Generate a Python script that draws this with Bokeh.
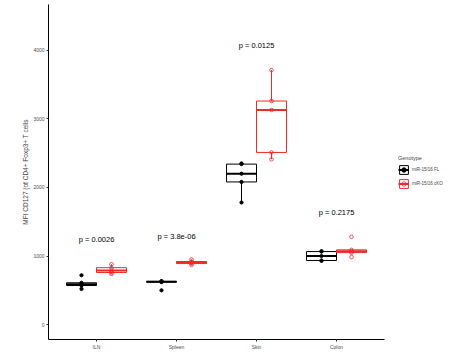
import numpy as np
from bokeh.plotting import figure
from bokeh.models import (Range1d, FixedTicker, ColumnDataSource, Legend, LegendItem)
from bokeh.core.properties import value
from bokeh.embed import file_html
from bokeh.resources import INLINE

# ---- data ----
tissues = ["ILN", "Spleen", "Skin", "Colon"]
genotypes = ["miR-15/16 FL", "miR-15/16 cKO"]
fl_values = {
    "ILN": [720, 610, 590, 570, 520],
    "Spleen": [635, 630, 625, 620, 500],
    "Skin": [2350, 2340, 2200, 2080, 1780],
    "Colon": [1070, 1065, 1000, 935, 930],
}
cko_values = {
    "ILN": [880, 830, 790, 760, 740],
    "Spleen": [950, 920, 905, 890, 870],
    "Skin": [3710, 3260, 3130, 2510, 2410],
    "Colon": [1280, 1090, 1070, 1050, 985],
}
p_labels = ["p = 0.0026", "p = 3.8e-06", "p = 0.0125", "p = 0.2175"]
p_label_y = [1245, 1290, 4070, 1640]
y_ticks = [0, 1000, 2000, 3000, 4000]

colors = ["#000000", "#EE2A2A"]
FONT = "Liberation Sans"
dodge = 0.1875
half_w = 0.1875

# panel covers x 0.4..4.6; extra room on the right of the frame holds the legend
p = figure(width=474, height=352, output_backend="svg", toolbar_location=None,
           x_range=Range1d(0.4, 5.725), y_range=Range1d(-217, 4667),
           min_border_left=48, min_border_right=0, min_border_top=4,
           min_border_bottom=11)
p.outline_line_color = None
p.xgrid.visible = False
p.ygrid.visible = False
p.background_fill_color = "white"

legend_items = []
for gi, (gname, data) in enumerate(zip(genotypes, [fl_values, cko_values])):
    col = colors[gi]
    off = -dodge if gi == 0 else dodge
    xs, q1s, q3s, meds, lo_w, hi_w = [], [], [], [], [], []
    px, py = [], []
    for ti, t in enumerate(tissues):
        v = np.array(data[t], dtype=float)
        q1, med, q3 = np.percentile(v, [25, 50, 75])
        iqr = q3 - q1
        lo = v[v >= q1 - 1.5 * iqr].min()
        hi = v[v <= q3 + 1.5 * iqr].max()
        x = ti + 1 + off
        xs.append(x); q1s.append(q1); q3s.append(q3); meds.append(med)
        lo_w.append(lo); hi_w.append(hi)
        px += [x] * len(v); py += list(v)
    src = ColumnDataSource(dict(x=xs, left=[x - half_w for x in xs],
                                right=[x + half_w for x in xs],
                                q1=q1s, q3=q3s, med=meds, lo=lo_w, hi=hi_w))
    p.segment(x0="x", y0="q3", x1="x", y1="hi", source=src, line_color=col, line_width=1)
    p.segment(x0="x", y0="q1", x1="x", y1="lo", source=src, line_color=col, line_width=1)
    box = p.quad(left="left", right="right", bottom="q1", top="q3", source=src,
                 fill_color="white", line_color=col, line_width=1)
    medr = p.segment(x0="left", y0="med", x1="right", y1="med", source=src,
                     line_color=col, line_width=2)
    psrc = ColumnDataSource(dict(x=px, y=py))
    if gi == 0:
        pts = p.scatter("x", "y", source=psrc, size=3.2, fill_color=col, line_color=col)
    else:
        pts = p.scatter("x", "y", source=psrc, size=3.6, fill_color="white",
                        fill_alpha=0, line_color=col, line_width=0.8)
    legend_items.append(LegendItem(label=gname, renderers=[box, medr, pts]))

tsrc = ColumnDataSource(dict(x=[i + 1 for i in range(len(tissues))], y=p_label_y, t=p_labels))
p.text(x="x", y="y", text="t", source=tsrc, text_align="center", text_baseline="middle",
       text_font=value(FONT), text_font_size="7.5px", text_color="#000000")

legend = Legend(items=legend_items, location=(350, 150), title="Genotype")
legend.title_text_font = FONT
legend.title_text_font_size = "5.5px"
legend.title_text_font_style = "normal"
legend.title_standoff = 3
legend.label_text_font = FONT
legend.label_text_font_size = "4.5px"
legend.glyph_width = 11
legend.glyph_height = 11
legend.label_height = 11
legend.label_standoff = 3
legend.spacing = 3
legend.padding = 0
legend.margin = 0
legend.border_line_alpha = 0
legend.background_fill_alpha = 0
p.add_layout(legend)

for ax in (p.xaxis[0], p.yaxis[0]):
    ax.axis_line_color = "#000000"
    ax.axis_line_width = 1
    ax.major_tick_line_color = "#333333"
    ax.major_tick_in = 0
    ax.major_tick_out = 2
    ax.minor_tick_line_color = None
    ax.major_label_text_font = FONT
    ax.major_label_text_font_size = "5px"
    ax.major_label_text_color = "#4D4D4D"
    ax.major_label_standoff = 2
    ax.axis_label_text_font = FONT
    ax.axis_label_text_font_style = "normal"

p.xaxis.bounds = (0.4, 4.6)
p.xaxis.ticker = FixedTicker(ticks=[1, 2, 3, 4])
p.xaxis.major_label_overrides = {i + 1: t for i, t in enumerate(tissues)}
p.yaxis.ticker = FixedTicker(ticks=y_ticks)
p.yaxis.axis_label = "MFI CD127 (of CD4+ Foxp3+ T cells"
p.yaxis.axis_label_text_font_size = "6.5px"
p.yaxis.axis_label_standoff = 1

open("out.html", "w").write(file_html(p, INLINE))
